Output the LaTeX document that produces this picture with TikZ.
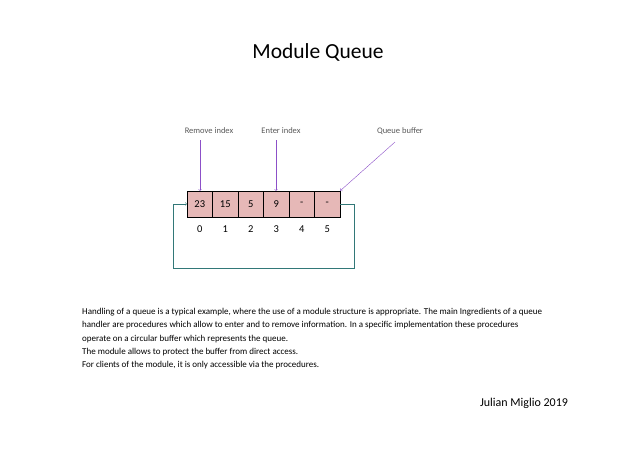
\documentclass[tikz,border=0pt]{standalone}
\usepackage{fontspec}
\setmainfont{Carlito}
\definecolor{cellpink}{RGB}{230,184,183}
\definecolor{arrowviolet}{RGB}{140,80,200}
\definecolor{looplt}{RGB}{50,120,120}
\begin{document}
\begin{tikzpicture}[x=1pt,y=-1pt,
  cell/.style={draw,fill=cellpink,minimum width=25.5pt,minimum height=26pt,inner sep=0pt,font=\fontsize{10.5}{12}\selectfont},
  lbl/.style={font=\fontsize{8.5}{10}\selectfont,text=black!65},
  idx/.style={font=\fontsize{10.5}{12}\selectfont},
  parr/.style={->,draw=arrowviolet},
  loop/.style={draw=looplt}]
\useasboundingbox (0,0) rectangle (638,451);
\node[font=\fontsize{21.5}{26}\selectfont] (title) at (318,52) {Module Queue};
\foreach \v [count=\i from 0] in {23,15,5,9,-,-}{
  \node[cell] (c\i) at (199.75+25.5*\i,204) {\v};
  \node[idx] (n\i) at (199.75+25.5*\i,229) {\i};
}
\node[lbl] (rm) at (209,131) {Remove index};
\node[lbl] (en) at (281,131) {Enter index};
\node[lbl] (qb) at (400,131) {Queue buffer};
\coordinate (rmb) at (200,140);
\coordinate (enb) at (276,140);
\coordinate (qbb) at (395,142);
\draw[parr] (rmb) -- (c0.north -| rmb);
\draw[parr] (enb) -- (c3.north -| enb);
\draw[parr] (qbb) -- (c5.north east);
\coordinate (r1) at (354,204);
\coordinate (r2) at (354,268);
\coordinate (l2) at (173,268);
\coordinate (l1) at (173,204);
\draw[loop,->] (c5.east) -- (r1) -- (r2) -- (l2) -- (l1) -- (c0.west);
\node[anchor=north west,align=left,font=\fontsize{9}{13.3}\selectfont,inner sep=0pt] (txt) at (82,308) {Handling of a queue is a typical example, where the use of a module structure is appropriate. The main Ingredients of a queue\\
handler are procedures which allow to enter and to remove information. In a specific implementation these procedures\\
operate on a circular buffer which represents the queue.\\
The module allows to protect the buffer from direct access.\\
For clients of the module, it is only accessible via the procedures.};
\node[font=\fontsize{12}{14}\selectfont] (auth) at (524,403) {Julian Miglio 2019};
\end{tikzpicture}
\end{document}
